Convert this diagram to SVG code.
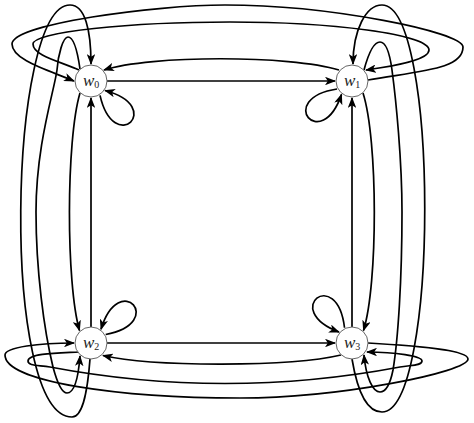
<svg xmlns="http://www.w3.org/2000/svg" width="474" height="423" viewBox="0 0 474 423">
<defs>
<marker id="ah" viewBox="0 0 11 8.5" refX="10" refY="4.25" markerWidth="11" markerHeight="8.5" markerUnits="userSpaceOnUse" orient="auto">
<path d="M0,0 L11,4.25 L0,8.5 L2.8,4.25 Z" fill="#000"/>
</marker>
<path id="loop" d="M16.6,3.5 C70.5,36 70.5,-36 16.6,-3.5"/>
</defs>
<style>
.e{fill:none;stroke:#000;stroke-width:1.7;marker-end:url(#ah)}
.n circle{fill:#fff;stroke:#666;stroke-width:1}
.n text{font-family:"Liberation Serif","DejaVu Serif",serif;font-style:italic;font-size:17px;fill:#222}
.n text tspan.s{font-style:normal;font-size:10px}
</style>
<rect width="474" height="423" fill="#fff"/>
<g id="edges">
<path class="e" d="M107,81 L335,81"/>
<path class="e" d="M91,327 L91,98"/>
<path class="e" d="M107,343 L335,343"/>
<path class="e" d="M352,327 L352,98"/>
<path class="e" d="M339,70 C290,55 150,55 104,70"/>
<path class="e" d="M80,93 C66,140 66,284 79.5,330.5"/>
<path class="e" d="M341,355 C290,367 153,367 103,355.5"/>
<path class="e" d="M363,93 C378,140 378,284 363.5,330.5"/>
<path class="e" d="M368,80 C423,70.5 463,69 463,47 C463,32 330,5 225,5 C155,5 12,24 12,44 C12,60 48,70 74,81"/>
<path class="e" d="M79,70 C62,62 33,56 33,44 C33,32 130,22 230,22 C330,22 429,34 429,50 C429,60 395,66 366,70"/>
<path class="e" d="M90,359 C88,385 84,417 72,417 C0,417 8,5 70,5 C85,5 91,30 91,64"/>
<path class="e" d="M80,69 C78,55 74,37 68,37 C63,37 58,55 57,70 C54,92 36,145 36,212 C36,270 44,330 53,367 C57,382 62,393 67,393 C73,393 78,382 80,356"/>
<path class="e" d="M352,359 C358,395 368,412 382,412 C439,412 439,5 382,5 C366,5 353,30 353,64"/>
<path class="e" d="M364,70 C368,55 373,42 380,42 C386,42 390,55 392,70 C396,100 402,160 402,212 C402,280 398,340 393,370 C390,385 385,392 380,392 C373,392 366,378 364,355"/>
<path class="e" d="M368,343 C420,346 468,350 468,359 C468,372 340,398 240,398 C120,398 5,382 5,355 C5,347 40,343 74,343"/>
<path class="e" d="M79,352 C62,353 28,353 28,361 C28,366 38,365 50,367 C108,378 167,383.5 225,383.5 C283,383.5 342,378 400,367 C410,365 422,366 422,361 C422,356 395,352 367,352"/>
<use href="#loop" class="e" transform="translate(91,81) rotate(46)"/>
<use href="#loop" class="e" transform="translate(352,81) rotate(140)"/>
<use href="#loop" class="e" transform="translate(91,343) rotate(-42)"/>
<use href="#loop" class="e" transform="translate(352,343) rotate(-128)"/>
</g>
<g id="w0" class="n"><circle cx="91" cy="81" r="16"/><text x="83" y="86">w<tspan class="s" dy="2">0</tspan></text></g>
<g id="w1" class="n"><circle cx="352" cy="81" r="16"/><text x="344" y="86">w<tspan class="s" dy="2">1</tspan></text></g>
<g id="w2" class="n"><circle cx="91" cy="343" r="16"/><text x="83" y="348">w<tspan class="s" dy="2">2</tspan></text></g>
<g id="w3" class="n"><circle cx="352" cy="343" r="16"/><text x="344" y="348">w<tspan class="s" dy="2">3</tspan></text></g>
</svg>
